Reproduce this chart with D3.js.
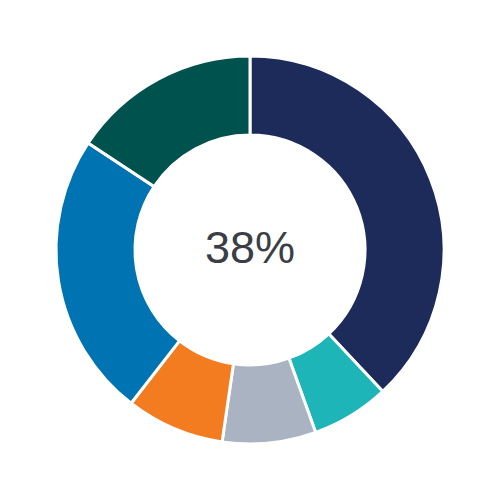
<!DOCTYPE html>
<html><head><meta charset="utf-8">
<script src="https://cdn.jsdelivr.net/npm/d3@7"></script>
<style>html,body{margin:0;padding:0;background:#fff}</style>
</head><body>
<svg id="c" width="500" height="500"></svg>
<script>
const categories = ["A","B","C","D","E","F"];
const values = [38, 6.5, 7.8, 8.2, 23.8, 15.7];
const colors = ["#1c2b5a","#1db5b7","#a9b3c1","#f47c20","#0074b3","#00524f"];
const centerLabel = "38%";

const svg = d3.select("#c");
const g = svg.append("g").attr("transform","translate(250,250)");
const pie = d3.pie().sort(null).value(d=>d.v);
const data = categories.map((c,i)=>({c, v:values[i], col:colors[i]}));
const arc = d3.arc().innerRadius(115).outerRadius(194);
g.selectAll("path").data(pie(data)).join("path")
  .attr("d", arc).attr("fill", d=>d.data.col)
  .attr("stroke","#fff").attr("stroke-width",3).attr("stroke-linejoin","miter");
g.append("text").attr("text-anchor","middle").attr("y",13)
  .attr("font-family","Liberation Sans, Arial, sans-serif").attr("font-size",45)
  .attr("fill","#3b3f45").text(centerLabel);
</script>
</body></html>
